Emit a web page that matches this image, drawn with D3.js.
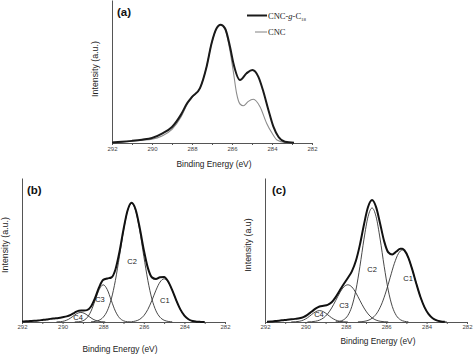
<!DOCTYPE html>
<html><head><meta charset="utf-8">
<script src="https://cdn.jsdelivr.net/npm/d3@7"></script>
<style>body{margin:0;background:#fff}svg{display:block}</style>
</head><body>
<script>
// ---------- data ----------
const xTicks = [292,291,290,289,288,287,286,285,284,283,282];

// Panel (a)
const eA1 = [292.0,291.5,291.0,290.5,290.0,289.5,289.0,288.55,288.23,288.0,287.6,287.27,287.02,286.77,286.57,286.35,286.1,285.93,285.6,285.27,284.98,284.68,284.43,284.18,283.93,283.68,283.35,282.9];
const cncGC18 = [0.5,1.0,1.8,2.8,4.2,8.0,13.5,24,34,39,46.5,64.6,84.4,97,100,97,81.5,67.5,53.3,59,61.8,56,43.4,28,13.8,5.3,1.1,0.3];
const eA2 = [292.0,291.5,291.0,290.5,290.0,289.5,289.0,288.55,288.23,288.0,287.6,287.27,287.02,286.77,286.57,286.35,286.1,285.93,285.77,285.6,285.43,285.2,284.93,284.6,284.27,284.0,283.75,283.35,282.9];
const cnc = [0.5,0.9,1.5,2.3,3.2,6.0,11.5,22,33,38.5,46.5,64.6,84.4,97,100,96.5,78,60,42,33,31.5,35,37,30.7,16.8,8.4,2.5,0.5,0.2];

// Panel (b)
const eB = [292.0,291.8,291.6,291.4,291.2,291.0,290.8,290.6,290.4,290.2,290.0,289.8,289.6,289.4,289.2,289.0,288.8,288.6,288.4,288.2,288.0,287.8,287.6,287.4,287.2,287.0,286.8,286.6,286.4,286.2,286.0,285.8,285.6,285.4,285.2,285.0,284.8,284.6,284.4,284.2,284.0,283.8,283.6,283.4,283.2,283.0];
const totalB = [0.4,0.6,0.8,1.0,1.3,1.7,2.1,2.6,3.0,3.4,4.0,4.7,6.0,7.9,9.4,9.6,9.9,12.9,20.0,29.0,35.1,36.3,37.1,43.6,58.3,77.1,92.9,99.3,93.5,78.4,60.1,45.1,37.2,35.8,37.3,37.5,33.8,26.6,18.0,10.5,5.3,2.3,0.8,0.3,0.1,0.0];
const eB_C1 = [286.6,286.4,286.2,286.0,285.8,285.6,285.4,285.2,285.0,284.8,284.6,284.4,284.2,284.0,283.8,283.6,283.4];
const b_C1 = [0.26,0.83,2.25,5.25,10.5,18.0,26.5,33.3,36.0,33.3,26.5,18.0,10.5,5.25,2.25,0.83,0.26];
const eB_C2 = [288.6,288.4,288.2,288.0,287.8,287.6,287.4,287.2,287.0,286.8,286.6,286.4,286.2,286.0,285.8,285.6,285.4,285.2,285.0,284.8,284.6];
const b_C2 = [0.14,0.49,1.48,3.97,9.3,19.2,34.6,54.8,76.1,92.7,99.0,92.7,76.1,54.8,34.6,19.2,9.3,3.97,1.48,0.49,0.14];
const eB_C3 = [289.4,289.2,289.0,288.8,288.6,288.4,288.2,288.0,287.8,287.6,287.4,287.2,287.0,286.8,286.6];
const b_C3 = [0.04,0.22,1.01,3.47,9.04,17.9,27.0,31.0,27.0,17.9,9.04,3.47,1.01,0.22,0.04];
const eB_C4 = [290.3,290.1,289.9,289.7,289.5,289.3,289.1,288.9,288.7,288.5,288.3,288.1,287.9];
const b_C4 = [0.06,0.26,0.90,2.33,4.62,6.98,8.0,6.98,4.62,2.33,0.90,0.26,0.06];

// Panel (c)
const eC = [291.9,291.7,291.5,291.3,291.1,290.9,290.7,290.5,290.3,290.1,289.9,289.7,289.5,289.3,289.1,288.9,288.7,288.5,288.3,288.1,287.9,287.7,287.5,287.3,287.1,286.9,286.7,286.5,286.3,286.1,285.9,285.7,285.5,285.3,285.2,285.1,284.9,284.7,284.5,284.3,284.1,283.9,283.7,283.5,283.3,283.1];
const totalC = [0.3,0.5,0.8,1.1,1.5,1.9,2.2,2.6,3.1,4.1,6.0,8.5,11.1,12.9,13.6,14.3,16.4,20.7,26.2,31.7,36.7,42.2,51.0,64.5,81.3,95.8,101.6,95.7,81.9,67.2,58.1,56.2,58.7,61.1,61.1,59.8,53.5,43.2,31.4,20.6,12.2,6.5,3.1,1.3,0.5,0.2];
const eC_C1 = [287.4,287.2,287.0,286.8,286.6,286.4,286.2,286.0,285.8,285.6,285.4,285.2,285.0,284.8,284.6,284.4,284.2,284.0,283.8,283.6,283.4,283.2,283.0];
const c_C1 = [0.10,0.31,0.84,2.05,4.52,8.98,16.05,25.8,37.3,48.6,56.9,60.0,56.9,48.6,37.3,25.8,16.05,8.98,4.52,2.05,0.84,0.31,0.10];
const eC_C2 = [288.5,288.3,288.1,287.9,287.7,287.5,287.3,287.1,286.9,286.7,286.5,286.3,286.1,285.9,285.7,285.5,285.3,285.1,284.9];
const c_C2 = [0.15,0.58,1.92,5.41,13.0,26.6,46.4,69.1,87.7,95.0,87.7,69.1,46.4,26.6,13.0,5.41,1.92,0.58,0.15];
const eC_C3 = [289.9,289.7,289.5,289.3,289.1,288.9,288.7,288.5,288.3,288.1,287.9,287.7,287.5,287.3,287.1,286.9,286.7,286.5,286.3,286.1,285.9];
const c_C3 = [0.07,0.22,0.63,1.57,3.47,6.77,11.7,17.9,24.3,29.2,31.0,29.2,24.3,17.9,11.7,6.77,3.47,1.57,0.63,0.22,0.07];
const eC_C4 = [290.7,290.5,290.3,290.1,289.9,289.7,289.5,289.3,289.1,288.9,288.7,288.5,288.3,288.1,287.9];
const c_C4 = [0.04,0.17,0.59,1.61,3.50,6.10,8.50,9.5,8.50,6.10,3.50,1.61,0.59,0.17,0.04];

const compNames = ["C1","C2","C3","C4"];

// ---------- drawing ----------
const svg = d3.select("body").append("svg")
  .attr("width",474).attr("height",354)
  .style("font-family",'"Liberation Sans", Arial, sans-serif');

function makePanel(o){
  const x = d3.scaleLinear().domain([292,282]).range([o.x0,o.x1]);
  const y = d3.scaleLinear().domain([0,o.ymax]).range([o.yb,o.yt]);
  const g = svg.append("g");

  const ya = g.append("g").attr("transform",`translate(${o.x0},0)`)
    .call(d3.axisLeft(y).tickValues([]).tickSizeOuter(0));
  ya.select(".domain").attr("stroke","#555").attr("stroke-width",1);

  const xa = g.append("g").attr("transform",`translate(0,${o.yb})`)
    .call(d3.axisBottom(x).tickValues(xTicks).tickSizeInner(2).tickSizeOuter(0)
      .tickPadding(o.tp).tickFormat(v => v % 2 === 0 ? d3.format("d")(v) : ""));
  xa.select(".domain").attr("stroke","#555").attr("stroke-width",1);
  xa.selectAll(".tick line").attr("stroke","#555");
  xa.selectAll(".tick text").attr("fill","#444").style("font-size","6px")
    .style("font-family",'"Liberation Sans", Arial, sans-serif');

  g.append("text").attr("x",o.xlab[0]).attr("y",o.xlab[1]).attr("text-anchor","middle")
    .attr("dy","0.35em").style("font-size","8.4px").attr("fill","#222").text("Binding Energy (eV)");
  g.append("text").attr("transform",`translate(${o.ylab[0]+3},${o.ylab[1]}) rotate(-90)`)
    .attr("text-anchor","middle").style("font-size","8.8px").attr("fill","#222").text(o.ytext);
  g.append("text").attr("x",o.tag[0]).attr("y",o.tag[1]).style("font-size","11.5px")
    .style("font-weight","bold").attr("fill","#111").text(o.tagText);

  return {g,x,y};
}

function drawLine(p, E, V, color, width){
  const line = d3.line().x(d=>p.x(d[0])).y(d=>p.y(d[1])).curve(d3.curveMonotoneX);
  p.g.append("path").datum(d3.zip(E,V)).attr("d",line)
    .attr("fill","none").attr("stroke",color).attr("stroke-width",width)
    .attr("stroke-linejoin","round");
}

// Panel (a)
const pa = makePanel({x0:112,x1:312,yb:143,yt:0,ymax:121,tp:2,
  xlab:[214,164], ylab:[95,69], ytext:"Intensity (a.u.)", tag:[117,16], tagText:"(a)"});
drawLine(pa, eA2, cnc, "#8c8c8c", 1.1);
drawLine(pa, eA1, cncGC18, "#1a1a1a", 2);

// legend (a)
const lg = pa.g.append("g").style("font-family",'"Liberation Serif", "Times New Roman", serif')
  .style("font-size","8.5px").attr("fill","#222");
lg.append("line").attr("x1",247).attr("x2",267).attr("y1",15.5).attr("y2",15.5)
  .attr("stroke","#1a1a1a").attr("stroke-width",2);
const t1 = lg.append("text").attr("x",268).attr("y",18.5);
t1.append("tspan").text("CNC-");
t1.append("tspan").style("font-style","italic").text("g");
t1.append("tspan").text("-C");
t1.append("tspan").attr("dy",2).style("font-size","5px").text("18");
lg.append("line").attr("x1",255).attr("x2",267).attr("y1",32).attr("y2",32)
  .attr("stroke","#8c8c8c").attr("stroke-width",1.1);
lg.append("text").attr("x",268).attr("y",35).text("CNC");

// Panel (b)
const pb = makePanel({x0:22,x1:225,yb:322,yt:178,ymax:120,tp:1,
  xlab:[120,349], ylab:[5,245], ytext:"Intensity (a.u.)", tag:[27,194], tagText:"(b)"});
[[eB_C1,b_C1],[eB_C2,b_C2],[eB_C3,b_C3],[eB_C4,b_C4]].forEach(([E,V])=>drawLine(pb,E,V,"#333",0.9));
drawLine(pb, eB, totalB, "#111", 2);
const labB = [[284.96,18.3],[286.58,50.8],[288.16,19.2],[289.24,4.2]];
labB.forEach((d,i)=>pb.g.append("text").attr("x",pb.x(d[0])).attr("y",pb.y(d[1]))
  .attr("dy","0.35em").attr("text-anchor","middle").style("font-size","7.5px").attr("fill","#222").text(compNames[i]));

// Panel (c)
const pc = makePanel({x0:265,x1:467,yb:322,yt:178,ymax:120,tp:1,
  xlab:[378,341], ylab:[248,245], ytext:"Intensity (a.u)", tag:[272,194], tagText:"(c)"});
[[eC_C1,c_C1],[eC_C2,c_C2],[eC_C3,c_C3],[eC_C4,c_C4]].forEach(([E,V])=>drawLine(pc,E,V,"#333",0.9));
drawLine(pc, eC, totalC, "#111", 2);
const labC = [[284.92,36.7],[286.70,44.2],[288.09,14.2],[289.33,6.7]];
labC.forEach((d,i)=>pc.g.append("text").attr("x",pc.x(d[0])).attr("y",pc.y(d[1]))
  .attr("dy","0.35em").attr("text-anchor","middle").style("font-size","7.5px").attr("fill","#222").text(compNames[i]));
</script>
</body></html>
